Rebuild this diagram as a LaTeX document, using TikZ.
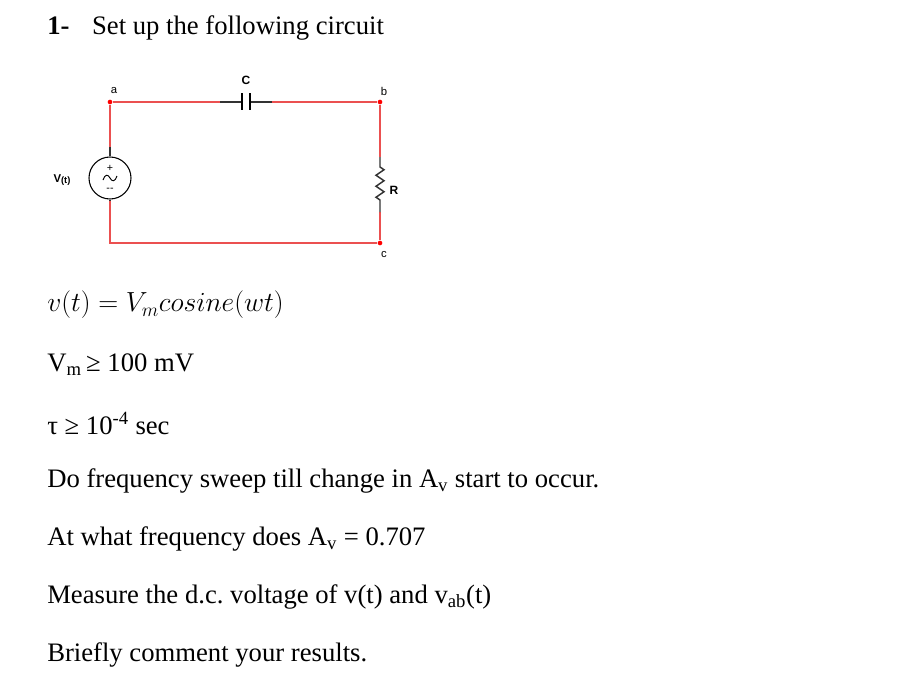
\documentclass[tikz,border=0pt]{standalone}
\usepackage{fontspec}
\setmainfont{Liberation Serif}
\newfontfamily\arial{Liberation Sans}
\usetikzlibrary{calc}
\definecolor{wire}{RGB}{235,80,80}
\tikzset{
 wirel/.style={draw=wire,line width=1.1pt},
 lead/.style={draw=black!80,line width=1.1pt},
 dot/.style={circle,fill=red,inner sep=0pt,minimum size=3.5pt},
 lbl/.style={font=\arial\fontsize{8.5}{10}\selectfont,inner sep=1pt},
 txt/.style={anchor=west,inner sep=0pt,font=\fontsize{20}{24}\selectfont}
}
\frenchspacing
\begin{document}
\begin{tikzpicture}[x=0.75pt,y=-0.75pt]
\useasboundingbox (0,0) rectangle (914,678);
% nodes
\node[dot] (a) at (110,102) {};
\node[dot] (b) at (380,102) {};
\node[dot] (c) at (380,243) {};
\coordinate (d) at (110,243);
\coordinate (cl) at (220,102);
\coordinate (cr) at (272,102);
\coordinate (st) at (110,147);
\coordinate (sb) at (110,200);
\coordinate (rt) at (380,157);
\coordinate (rb) at (380,212);
\node[circle,draw,line width=0.8pt,minimum size=40pt*0.75*1.05,inner sep=0pt] (src) at (110,178) {};
% wires
\draw[wirel] (a) -- (cl);
\draw[wirel] (cr) -- (b);
\draw[wirel] (b) -- (rt);
\draw[wirel] (rb) -- (c);
\draw[wirel] (c) -- (d) -- (sb);
\draw[wirel] (st) -- (a);
% source leads
\draw[lead] (st) -- (src.north);
\draw[lead] (sb) -- (src.south);
\node[font=\arial\fontsize{8}{9}\selectfont,inner sep=0pt] at (110,168) {+};
\node[font=\arial\fontsize{8}{9}\selectfont,inner sep=0pt] at (110,190) {--};
\draw[line width=0.7pt] (103,180) .. controls (105,174) and (108,174) .. (110,178) .. controls (112,182) and (115,182) .. (117,176);
% capacitor
\draw[lead] (cl) -- (242,102);
\draw[lead] (250,102) -- (cr);
\draw[line width=1.3pt] (242,93) -- (242,110);
\draw[line width=1.3pt] (250,93) -- (250,110);
% resistor
\draw[lead] (rt) -- (380,167) -- (384,169.75) -- (376,175.25) -- (384,180.75) -- (376,186.25) -- (384,191.75) -- (376,197.25) -- (380,200) -- (rb);
% labels
\node[lbl] at (114,91) {a};
\node[lbl] at (384,91) {b};
\node[lbl] at (384,255) {c};
\node[lbl,font=\arial\bfseries\fontsize{9}{10}\selectfont] at (246,80) {C};
\node[lbl,font=\arial\bfseries\fontsize{9}{10}\selectfont] at (394,190) {R};
\node[lbl,font=\arial\bfseries\fontsize{8.5}{10}\selectfont] at (62,180) {V\raisebox{-0.2ex}{\fontsize{7}{8}\selectfont(t)}};
% text
\node[txt] at (47,28) {\textbf{1-}\hspace{0.6em} Set up the following circuit};
\node[txt] at (47,305) {$v(t)=V_m cosine(wt)$};
\node[txt] at (47,365) {V\textsubscript{m}\,≥ 100 mV};
\node[txt] at (47,423) {τ ≥ 10\textsuperscript{-4} sec};
\node[txt] at (47,481) {Do frequency sweep till change in A\textsubscript{v} start to occur.};
\node[txt] at (47,539) {At what frequency does A\textsubscript{v} = 0.707};
\node[txt] at (47,597) {Measure the d.c. voltage of v(t) and v\textsubscript{ab}(t)};
\node[txt] at (47,655) {Briefly comment your results.};
\end{tikzpicture}
\end{document}
